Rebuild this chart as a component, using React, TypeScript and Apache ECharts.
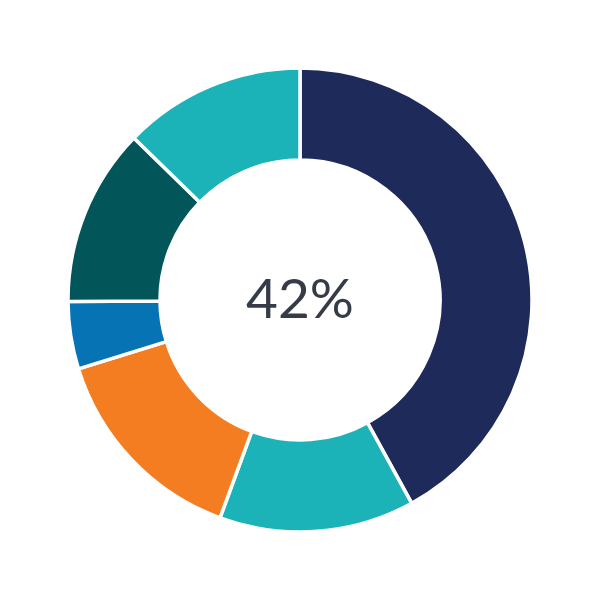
import React, { useEffect, useRef } from "react";
import * as echarts from "echarts";

const categories = ["A", "B", "C", "D", "E", "F"];
const values = [42, 13.6, 14.6, 4.7, 12.4, 12.7];
const colors = ["#1d2a5a", "#1bb3b8", "#f47c21", "#0673b4", "#02565a", "#1bb3b8"];
const centerLabel = "42%";

export default function App() {
  const ref = useRef<HTMLDivElement>(null);
  useEffect(() => {
    if (!ref.current) return;
    const chart = echarts.init(ref.current, null, { renderer: "svg" });
    chart.setOption({
      animation: false,
      backgroundColor: "#ffffff",
      graphic: [
        {
          type: "text",
          x: 300,
          y: 297,
          style: {
            text: centerLabel,
            fontSize: 55,
            fontWeight: 400,
            fontFamily: "Lato, 'Open Sans', sans-serif",
            fill: "#363c47",
            align: "center",
            verticalAlign: "middle",
          },
        },
      ],
      series: [
        {
          type: "pie",
          center: ["50%", "50%"],
          radius: [140, 232],
          startAngle: 90,
          clockwise: true,
          label: { show: false },
          labelLine: { show: false },
          emphasis: { disabled: true },
          itemStyle: { borderColor: "#ffffff", borderWidth: 3.5 },
          data: categories.map((c, i) => ({
            name: c,
            value: values[i],
            itemStyle: { color: colors[i] },
          })),
        },
      ],
    });
    return () => chart.dispose();
  }, []);
  return (
    <div
      ref={ref}
      style={{ position: "fixed", left: 0, top: 0, width: 600, height: 600 }}
    />
  );
}
